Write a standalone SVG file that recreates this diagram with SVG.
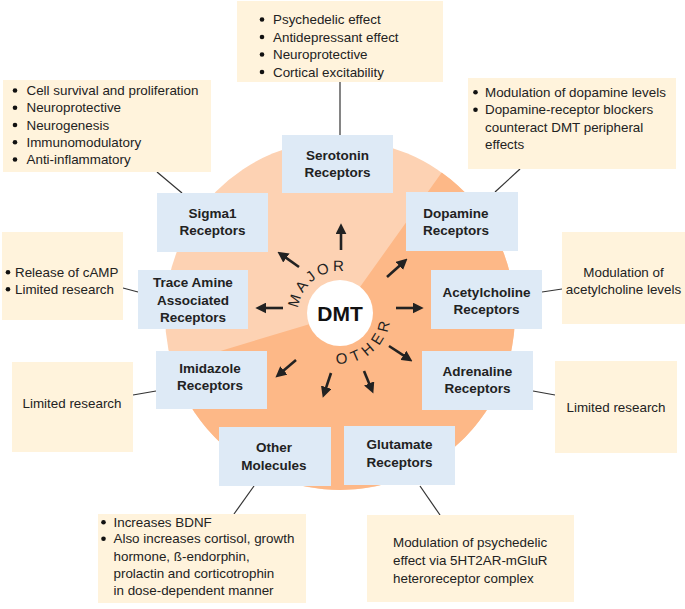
<svg xmlns="http://www.w3.org/2000/svg" width="685" height="609" viewBox="0 0 685 609">
<defs>
<style>
.rc{fill:#DEEAF6;}
.fx{fill:#FFF3DC;}
.nt{font-family:"Liberation Sans",Arial,sans-serif;font-weight:bold;font-size:13.5px;fill:#222;text-anchor:middle;}
.ft{font-family:"Liberation Sans",Arial,sans-serif;font-size:13.4px;fill:#222;}
.fc{text-anchor:middle;}
.bl{fill:#111;}
.cn{stroke:#333;stroke-width:1.2;fill:none;}
.ar{stroke:#222;stroke-width:2.6;fill:none;marker-end:url(#ah);}
.arc{font-family:"Liberation Sans",Arial,sans-serif;font-size:15px;fill:#222;}
</style>
<marker id="ah" markerUnits="userSpaceOnUse" markerWidth="11" markerHeight="11" viewBox="0 0 10 10" refX="3" refY="5" orient="auto">
<path d="M0,0 L10,5 L0,10 z" fill="#222"/>
</marker>
<path id="pMajor" d="M306.45 338.28 A42 42 0 0 1 373.55 287.72"/>
<path id="pOther" d="M301.22 346.12 A51 51 0 0 0 378.78 279.88"/>
</defs>

<g id="pie">
<circle cx="340" cy="315" r="175" fill="#FDD2B3"/>
<path d="M340 315 L441.7 172.5 A175 175 0 1 1 172.4 365.4 Z" fill="#FDB887"/>
</g>

<g id="connectors">
<line class="cn" x1="340" y1="82" x2="340" y2="135"/>
<line class="cn" x1="157" y1="172" x2="182" y2="193"/>
<line class="cn" x1="520" y1="169" x2="495" y2="192"/>
<line class="cn" x1="123" y1="288" x2="138" y2="292"/>
<line class="cn" x1="542" y1="292" x2="562" y2="289"/>
<line class="cn" x1="133" y1="395" x2="156" y2="391"/>
<line class="cn" x1="533" y1="391" x2="555" y2="395"/>
<line class="cn" x1="254" y1="486" x2="234" y2="514"/>
<line class="cn" x1="420" y1="486" x2="440" y2="515"/>
<line class="ar" x1="341" y1="250" x2="341" y2="231"/>
<line class="ar" x1="299" y1="267" x2="283.7" y2="256.1"/>
<line class="ar" x1="283" y1="308" x2="263" y2="308"/>
<line class="ar" x1="387" y1="277" x2="401.8" y2="263.7"/>
<line class="ar" x1="396" y1="308" x2="416" y2="308"/>
<line class="ar" x1="389" y1="346" x2="406.1" y2="357.2"/>
<line class="ar" x1="296" y1="360" x2="281.3" y2="372.5"/>
<line class="ar" x1="331" y1="373" x2="325.2" y2="390.4"/>
<line class="ar" x1="364" y1="371" x2="370.4" y2="386.5"/>
</g>

<g id="dmt">
<circle cx="340" cy="313" r="33" fill="#FFFFFF"/>
<text x="340" y="320.5" font-family="Liberation Sans,Arial,sans-serif" font-weight="bold" font-size="21" fill="#111" text-anchor="middle">DMT</text>
<text class="arc" letter-spacing="3.2"><textPath href="#pMajor" startOffset="50%" text-anchor="middle">MAJOR</textPath></text>
<text class="arc" letter-spacing="5.3"><textPath href="#pOther" startOffset="50%" text-anchor="middle">OTHER</textPath></text>
</g>

<g id="serotonin">
<rect class="rc" x="282" y="135" width="111" height="58"/>
<text class="nt" x="337.5" y="160">Serotonin</text>
<text class="nt" x="337.5" y="177">Receptors</text>
</g>
<g id="sigma1">
<rect class="rc" x="157" y="193" width="111" height="59"/>
<text class="nt" x="212.5" y="217.5">Sigma1</text>
<text class="nt" x="212.5" y="234.5">Receptors</text>
</g>
<g id="dopamine">
<rect class="rc" x="406" y="192" width="112" height="59"/>
<text class="nt" x="456" y="217.5">Dopamine</text>
<text class="nt" x="456" y="234.5">Receptors</text>
</g>
<g id="trace-amine">
<rect class="rc" x="138" y="270" width="110" height="59"/>
<text class="nt" x="193" y="287">Trace Amine</text>
<text class="nt" x="193" y="304.5">Associated</text>
<text class="nt" x="193" y="322">Receptors</text>
</g>
<g id="acetylcholine">
<rect class="rc" x="431" y="270" width="111" height="59"/>
<text class="nt" x="486.5" y="296.5">Acetylcholine</text>
<text class="nt" x="486.5" y="313.5">Receptors</text>
</g>
<g id="imidazole">
<rect class="rc" x="156" y="351" width="111" height="58"/>
<text class="nt" x="210" y="372.5">Imidazole</text>
<text class="nt" x="210" y="389.5">Receptors</text>
</g>
<g id="adrenaline">
<rect class="rc" x="422" y="351" width="111" height="59"/>
<text class="nt" x="477.5" y="375.5">Adrenaline</text>
<text class="nt" x="477.5" y="392.5">Receptors</text>
</g>
<g id="other-molecules">
<rect class="rc" x="219" y="427" width="112" height="59"/>
<text class="nt" x="274" y="452">Other</text>
<text class="nt" x="274" y="470">Molecules</text>
</g>
<g id="glutamate">
<rect class="rc" x="344" y="426" width="111" height="59"/>
<text class="nt" x="399.5" y="449">Glutamate</text>
<text class="nt" x="399.5" y="467">Receptors</text>
</g>

<g id="serotonin-effects">
<rect class="fx" x="237" y="1" width="206" height="81"/>
<circle class="bl" cx="262" cy="19.5" r="2.3"/>
<circle class="bl" cx="262" cy="37" r="2.3"/>
<circle class="bl" cx="262" cy="54.5" r="2.3"/>
<circle class="bl" cx="262" cy="72" r="2.3"/>
<text class="ft" x="273" y="24">Psychedelic effect</text>
<text class="ft" x="273" y="41.5">Antidepressant effect</text>
<text class="ft" x="273" y="59">Neuroprotective</text>
<text class="ft" x="273" y="76.5">Cortical excitability</text>
</g>
<g id="sigma1-effects">
<rect class="fx" x="3" y="80" width="208" height="92"/>
<circle class="bl" cx="15" cy="90.5" r="2.3"/>
<circle class="bl" cx="15" cy="107.8" r="2.3"/>
<circle class="bl" cx="15" cy="125" r="2.3"/>
<circle class="bl" cx="15" cy="142.2" r="2.3"/>
<circle class="bl" cx="15" cy="159.5" r="2.3"/>
<text class="ft" x="26.5" y="95">Cell survival and proliferation</text>
<text class="ft" x="26.5" y="112.3">Neuroprotective</text>
<text class="ft" x="26.5" y="129.5">Neurogenesis</text>
<text class="ft" x="26.5" y="146.7">Immunomodulatory</text>
<text class="ft" x="26.5" y="164">Anti-inflammatory</text>
</g>
<g id="dopamine-effects">
<rect class="fx" x="468" y="78" width="208" height="91"/>
<circle class="bl" cx="475.5" cy="92.2" r="2.3"/>
<circle class="bl" cx="475.5" cy="109.8" r="2.3"/>
<text class="ft" x="485" y="96.7">Modulation of dopamine levels</text>
<text class="ft" x="485" y="114.3">Dopamine-receptor blockers</text>
<text class="ft" x="485" y="131.7">counteract DMT peripheral</text>
<text class="ft" x="485" y="148.8">effects</text>
</g>
<g id="trace-amine-effects">
<rect class="fx" x="2" y="232" width="121" height="88"/>
<circle class="bl" cx="8" cy="272.2" r="2.3"/>
<circle class="bl" cx="8" cy="289.2" r="2.3"/>
<text class="ft" x="15" y="276.7">Release of cAMP</text>
<text class="ft" x="15" y="293.7">Limited research</text>
</g>
<g id="acetylcholine-effects">
<rect class="fx" x="562" y="232" width="123" height="92"/>
<text class="ft fc" x="623.5" y="276.7">Modulation of</text>
<text class="ft fc" x="623.5" y="294">acetylcholine levels</text>
</g>
<g id="imidazole-effects">
<rect class="fx" x="12" y="362" width="121" height="90"/>
<text class="ft fc" x="72" y="408.3">Limited research</text>
</g>
<g id="adrenaline-effects">
<rect class="fx" x="555" y="361" width="122" height="92"/>
<text class="ft fc" x="616" y="411.7">Limited research</text>
</g>
<g id="other-molecules-effects">
<rect class="fx" x="98" y="514" width="208" height="89"/>
<circle class="bl" cx="103.5" cy="522.2" r="2.3"/>
<circle class="bl" cx="103.5" cy="538.8" r="2.3"/>
<text class="ft" x="113.5" y="526.7">Increases BDNF</text>
<text class="ft" x="113.5" y="543.3">Also increases cortisol, growth</text>
<text class="ft" x="113.5" y="561">hormone, ß-endorphin,</text>
<text class="ft" x="113.5" y="578.3">prolactin and corticotrophin</text>
<text class="ft" x="113.5" y="595.3">in dose-dependent manner</text>
</g>
<g id="glutamate-effects">
<rect class="fx" x="367" y="515" width="207" height="87"/>
<text class="ft" x="393" y="546.7">Modulation of psychedelic</text>
<text class="ft" x="393" y="565">effect via 5HT2AR-mGluR</text>
<text class="ft" x="393" y="582.7">heteroreceptor complex</text>
</g>
</svg>
